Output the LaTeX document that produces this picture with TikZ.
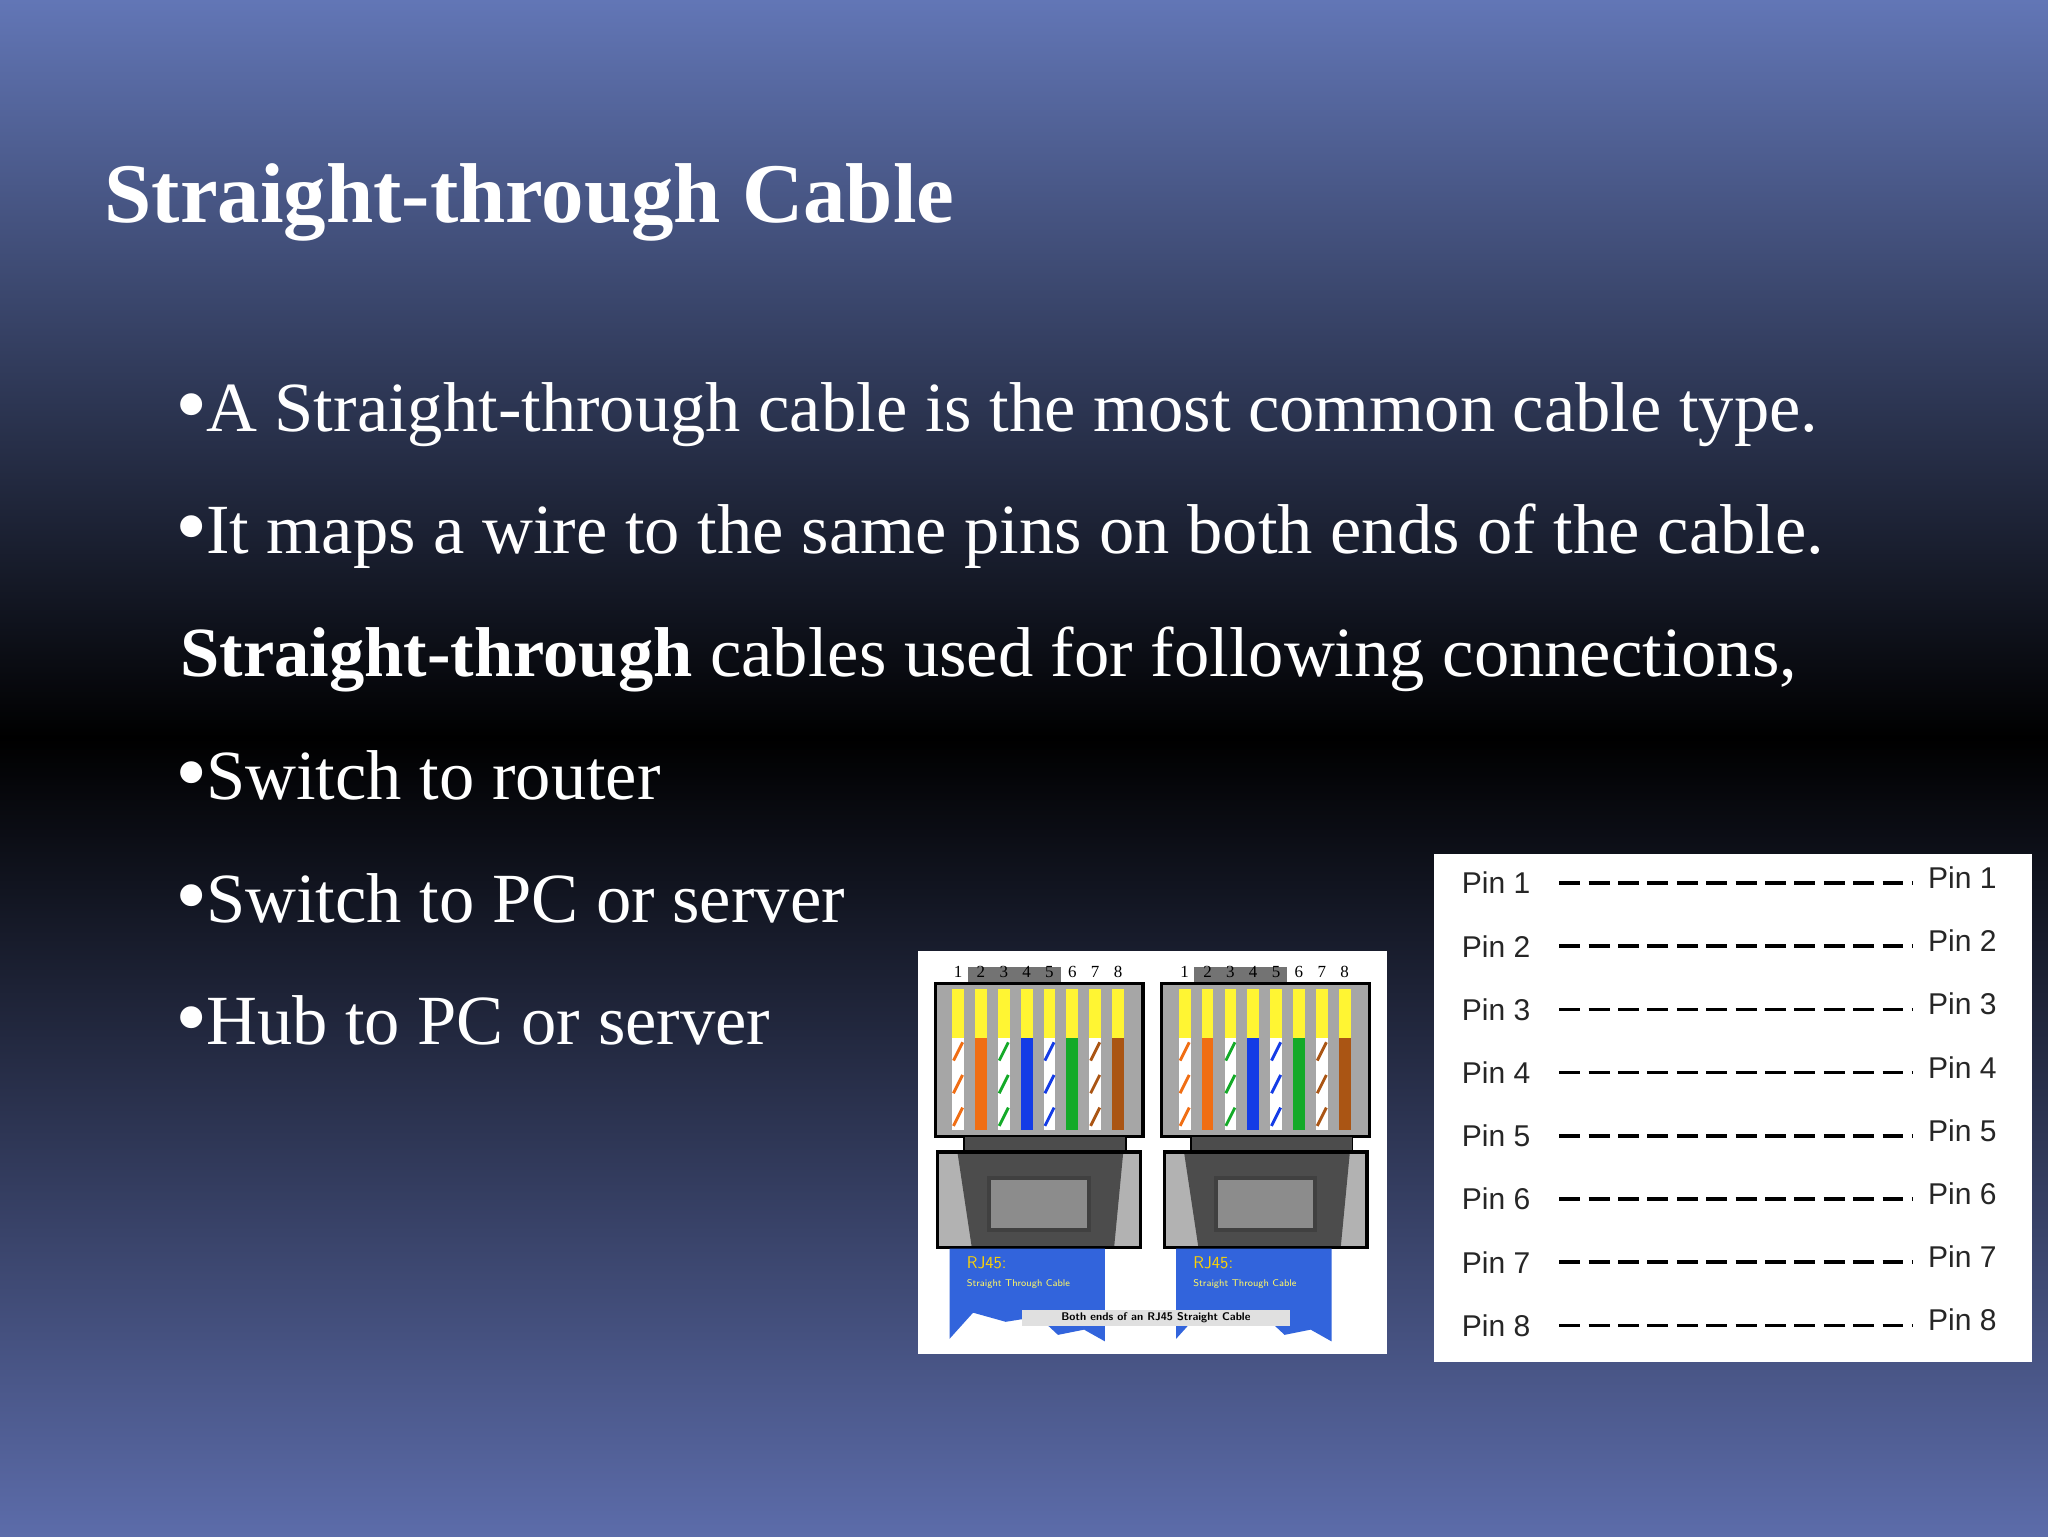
\documentclass[tikz,border=0pt]{standalone}
\usepackage{fontspec}
\setmainfont{Liberation Serif}
\newfontfamily\pinfont{Liberation Sans}
\begin{document}
\begin{tikzpicture}[x=1pt,y=-1pt,
  bul/.style={anchor=base west,text=white,font=\fontsize{54}{54}\selectfont,inner sep=0},
  pin/.style={font=\pinfont\fontsize{23}{23}\selectfont,text=black!85,inner sep=2pt},
  dashline/.style={line width=2.8pt,dash pattern=on 16pt off 6.5pt},
  plug/.style={draw=black,line width=2.5pt}]
\definecolor{topb}{RGB}{98,118,182}
\definecolor{botb}{RGB}{92,108,170}
\definecolor{wor}{RGB}{240,110,20}
\definecolor{wgr}{RGB}{20,170,40}
\definecolor{wbl}{RGB}{20,60,230}
\definecolor{wbr}{RGB}{170,85,20}
\definecolor{ribbon}{RGB}{50,100,220}
\useasboundingbox (0,0) rectangle (1568,1176);
\shade[top color=topb,bottom color=black] (0,0) rectangle (1568,565);
\shade[top color=black,bottom color=botb] (0,564) rectangle (1568,1176);
\newcommand{\bb}{{\fontsize{62}{62}\selectfont\textbf{\textbullet}}}
\node[anchor=base west,text=white,font=\bfseries\fontsize{65}{65}\selectfont,inner sep=0] (title) at (80,170) {Straight-through Cable};
\node[bul] (b1) at (136,330) {\bb A Straight-through cable is the most common cable type.};
\node[bul] (b2) at (136,424) {\bb It maps a wire to the same pins on both ends of the cable.};
\node[bul] (b3) at (138,518) {\textbf{Straight-through} cables used for following connections,};
\node[bul] (b4) at (136,612) {\bb Switch to router};
\node[bul] (b5) at (136,706) {\bb Switch to PC or server};
\node[bul] (b6) at (136,800) {\bb Hub to PC or server};
% pin table
\fill[white] (1098,654) rectangle (1556,1043);
\foreach \i in {1,...,8}{
  \node[pin,anchor=west] (l\i) at (1117,{676+48.4*(\i-1)}) {Pin \i};
  \node[pin,anchor=west] (r\i) at (1474,{672+48.4*(\i-1)}) {Pin \i};
  \draw[dashline] ([xshift=20pt]l\i.east) -- ([xshift=-10pt]l\i.east -| r\i.west);
}
% connector picture
\fill[white] (703,728) rectangle (1062,1037);
\foreach \ox/\nm in {0/a,173.5/b}{
\begin{scope}[xshift=\ox]
  \fill[black!55] (741,740) rectangle (812,753);
  \fill[black!35] (716,753) rectangle (875,870);
  \foreach \i/\c/\s in {1/wor/1,2/wor/0,3/wgr/1,4/wbl/0,5/wbl/1,6/wgr/0,7/wbr/1,8/wbr/0}{
    \pgfmathsetmacro{\cx}{733.5+17.5*(\i-1)}
    \node[font=\fontsize{13}{13}\selectfont,inner sep=0] (n\nm\i) at (\cx,744) {\i};
    \fill[yellow!80!white] (\cx-4.5,757.5) rectangle (\cx+4.5,795);
    \ifnum\s=1
      \fill[white] (\cx-4.5,795) rectangle (\cx+4.5,865);
      \foreach \yy in {805,830,855}{\draw[\c,line width=2.2pt] (\cx-3.5,\yy+7) -- (\cx+3.5,\yy-7);}
    \else
      \fill[\c] (\cx-4.5,795) rectangle (\cx+4.5,865);
    \fi
  }
  \draw[plug] (716,753) rectangle (875,870);
  \fill[black!70] (738,870) rectangle (862,882);
  \draw[black,line width=1.5pt] (738,870) rectangle (862,882);
  \fill[black!30] (718,882) rectangle (873,955);
  \fill[black!70] (733,882) -- (860,882) -- (853,955) -- (744,955) -- cycle;
  \fill[black!75] (756,900) rectangle (835,943);
  \fill[black!45] (759,903.5) rectangle (832,940);
  \draw[plug] (718,882) rectangle (873,955);
  \fill[ribbon] (727,956) -- (846,956) -- (846,1027) -- (830,1018) -- (810,1022) -- (795,1008) -- (770,1012) -- (745,1005) -- (727,1025) -- cycle;
  \node[anchor=west,text=yellow!70!orange,font=\sffamily\fontsize{13}{13}\selectfont,inner sep=0] (rj\nm) at (740,967) {RJ45:};
  \node[anchor=west,text=yellow!60!white,font=\sffamily\fontsize{7.5}{7.5}\selectfont,inner sep=0] (st\nm) at (740,983) {Straight Through Cable};
\end{scope}}
\node[fill=black!12,font=\sffamily\bfseries\fontsize{8.5}{8.5}\selectfont,inner sep=2pt,minimum width=205pt] (cap) at (885,1009) {Both ends of an RJ45 Straight Cable};
\end{tikzpicture}
\end{document}
